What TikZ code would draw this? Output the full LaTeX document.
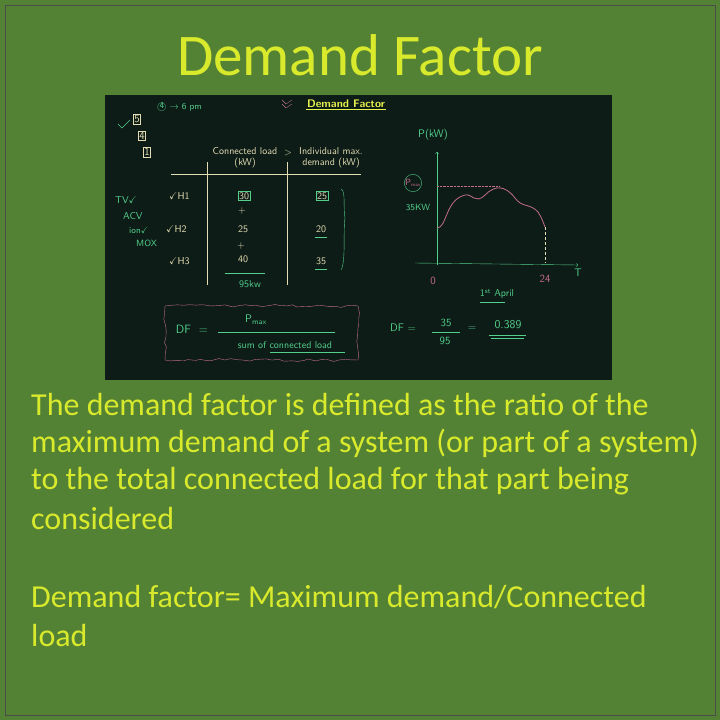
\documentclass[tikz,border=0pt]{standalone}
\usepackage{amssymb}
\usepackage{fontspec}
\setmainfont{Carlito}
\usetikzlibrary{decorations.pathmorphing}
\definecolor{bg}{HTML}{548235}
\definecolor{ttl}{HTML}{D9EA2C}
\definecolor{board}{HTML}{0E1C17}
\definecolor{chalkc}{HTML}{E4DDB4}
\definecolor{chalkg}{HTML}{52D08C}
\definecolor{chalkp}{HTML}{C26C8E}
\definecolor{chalky}{HTML}{E8F24E}
\tikzset{
 ct/.style={text=chalkc,font=\sffamily\fontsize{10}{11}\selectfont,align=center,inner sep=1pt},
 gt/.style={text=chalkg,font=\sffamily\fontsize{11}{12}\selectfont,inner sep=1pt},
 pt/.style={text=chalkp,font=\sffamily\fontsize{11}{12}\selectfont,inner sep=1pt},
 body/.style={text=ttl,font=\fontsize{32}{38}\selectfont,anchor=west,inner sep=0pt},
}
\begin{document}
\begin{tikzpicture}[x=1pt,y=-1pt]
\fill[bg] (0,0) rectangle (720,720);
\draw[black!70,line width=1pt] (5,5) rectangle (715,715);
\node[text=ttl,font=\fontsize{59}{62}\selectfont] (title) at (360,55) {Demand Factor};
\fill[board] (105,95) rectangle (612,380);
% heading
\node[text=chalky,font=\sffamily\bfseries\fontsize{11}{12}\selectfont,inner sep=1pt] (hd) at (346,104) {Demand Factor};
\draw[chalky] (hd.south west) -- (hd.south east);
\draw[chalkp] (282,100) -- (286,104) -- (292,100) (282,104) -- (286,108) -- (292,104);
% scribbles
\node[gt,draw=chalkc,text=chalkc] (b5) at (137,119) {5};
\node[gt,draw=chalkc,text=chalkc] (b4) at (142,136) {4};
\node[gt,draw=chalkc,text=chalkc] (b1) at (147,152) {1};
\draw[chalkg] (118,124) -- (122,128) -- (130,120);
\node[gt,anchor=west,font=\sffamily\fontsize{9}{10}\selectfont] (pm) at (156,107) {\textcircled{4} $\rightarrow$ 6 pm};
% table
\node[ct] (c1) at (245,158) {Connected load\\(kW)};
\node[ct] (c2) at (331,158) {Individual max.\\demand (kW)};
\node[ct] (gt1) at (288,153) {$>$};
\draw[chalkc] (171,174) -- (361,174);
\draw[chalkc] (207,162) -- (207,285);
\draw[chalkc] (287,162) -- (287,285);
\node[ct,anchor=west] (h1) at (168,196) {$\checkmark$H1};
\node[ct,anchor=west] (h2) at (165,229) {$\checkmark$H2};
\node[ct,anchor=west] (h3) at (168,261) {$\checkmark$H3};
\node[ct,draw=chalkg] (v30) at (244,196) {30};
\node[ct] (p1) at (242,211) {+};
\node[ct] (v25) at (243,229) {25};
\node[ct] (p2) at (241,246) {+};
\node[ct] (v40) at (243,259) {40};
\draw[chalkg] (225,273) -- (265,273);
\node[gt,font=\sffamily\fontsize{10}{11}\selectfont] (sum) at (250,284) {95kw};
\node[ct,draw=chalkg] (w25) at (322,196) {25};
\node[ct] (w20) at (321,229) {20};
\node[ct] (w35) at (321,261) {35};
\draw[chalkg] (315,237) -- (327,237) (315,269) -- (327,269);
\draw[chalkg] (341,189) .. controls (346,190) and (343,210) .. (345,218) .. controls (343,230) and (346,262) .. (341,270);
\node[gt,anchor=west,font=\sffamily\fontsize{10}{11}\selectfont] (tv) at (114,200) {TV$\checkmark$};
\node[gt,anchor=west,font=\sffamily\fontsize{10}{11}\selectfont] (ac) at (122,216) {ACV};
\node[gt,anchor=west,font=\sffamily\fontsize{9}{10}\selectfont] (ion) at (128,230) {ion$\checkmark$};
\node[gt,anchor=west,font=\sffamily\fontsize{9}{10}\selectfont] (mox) at (135,243) {MOX};
% graph
\node[gt] (pk) at (433,135) {P(kW)};
\draw[chalkg,->] (437,265) -- (437,152);
\draw[chalkg,->] (415,263) -- (578,265);
\node[gt] (tt) at (578,273) {T};
\node[pt] (z) at (433,281) {0};
\node[pt] (t24) at (545,279) {24};
\node[pt,draw=chalkg,circle,inner sep=0pt,font=\sffamily\fontsize{9}{10}\selectfont] (pmx) at (413,183) {P\textsubscript{\tiny max}};
\node[gt,font=\sffamily\fontsize{9}{10}\selectfont] (kw35) at (418,207) {35KW};
\draw[chalkp,densely dotted] (437,186) -- (500,186);
\draw[chalkp,thick] (437,228) .. controls (447,228) and (445,200) .. (465,195) .. controls (472,193) and (475,205) .. (485,195) .. controls (495,185) and (505,185) .. (515,198) .. controls (522,208) and (530,203) .. (538,212) .. controls (542,218) and (543,222) .. (545,227);
\draw[chalkc,densely dashed] (545,227) -- (545,263);
\node[gt,font=\sffamily\fontsize{10}{11}\selectfont] (apr) at (497,294) {1\textsuperscript{st} April};
\draw[chalkg] (480,302) -- (505,302);
% DF box
\draw[chalkp,decorate,decoration={random steps,segment length=6pt,amplitude=1.5pt}] (165,306) rectangle (358,360);
\node[gt,font=\sffamily\fontsize{12}{13}\selectfont] (df1) at (192,329) {DF \ =};
\node[gt] (pmax) at (256,320) {P\textsubscript{max}};
\draw[chalkg] (218,332) -- (335,332);
\node[gt,font=\sffamily\fontsize{10}{11}\selectfont] (den) at (285,345) {sum of connected load};
\draw[chalkg] (270,352) -- (345,352);
% DF right
\node[gt] (df2) at (403,328) {DF =};
\node[gt] (n35) at (446,323) {35};
\draw[chalkg] (432,332) -- (460,332);
\node[gt] (n95) at (445,341) {95};
\node[gt] (eq) at (472,328) {=};
\node[gt,font=\sffamily\fontsize{12}{13}\selectfont] (res) at (508,325) {0.389};
\draw[chalkg] (489,335) -- (526,335) (491,338) -- (524,338);
% body
\node[body] (l1) at (31,405) {The demand factor is defined as the ratio of the};
\node[body] (l2) at (31,443) {maximum demand of a system (or part of a system)};
\node[body] (l3) at (31,481) {to the total connected load for that part being};
\node[body] (l4) at (31,519) {considered};
\node[body] (l5) at (31,597) {Demand factor= Maximum demand/Connected};
\node[body] (l6) at (31,635) {load};
\end{tikzpicture}
\end{document}
